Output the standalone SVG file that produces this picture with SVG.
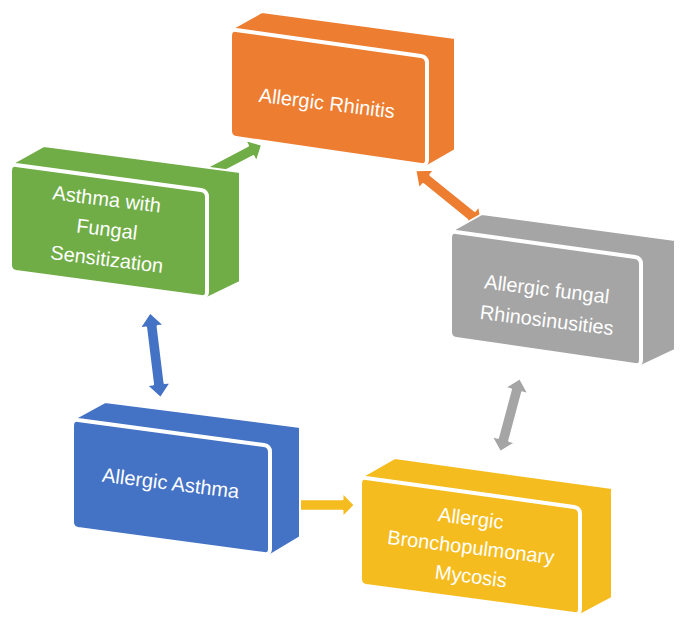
<svg xmlns="http://www.w3.org/2000/svg" width="685" height="627" viewBox="0 0 685 627">
<style>
.face{stroke:#fff;stroke-width:4;stroke-linejoin:round}
.body{stroke:#fff;stroke-width:2;stroke-linejoin:round}
.t{font-family:"Liberation Sans",Arial,sans-serif;font-size:20px;fill:#fff;text-anchor:middle}
.arr{stroke:#fff;stroke-width:2.5;stroke-linejoin:round}
</style>
<defs>
<path id="a" d="M0,0 L14,-13 L14,-6 L66,-6 L66,-13 L80,0 L66,13 L66,6 L14,6 L14,13 Z"/>
</defs>
<rect width="685" height="627" fill="#fff"/>
<g id="connectors">
<use href="#a" class="arr" fill="#70AD47" transform="translate(195,180) rotate(-27.6) scale(0.95,1)"/>
<use href="#a" class="arr" fill="#ED7D31" transform="translate(415,170) rotate(39) scale(1.09,1)"/>
<use href="#a" class="arr" fill="#4472C4" transform="translate(150,312) rotate(83) scale(1.09,1)"/>
<use href="#a" class="arr" fill="#A5A5A5" transform="translate(520,378) rotate(105) scale(0.96,1)"/>
<use href="#a" class="arr" fill="#F5BC1F" transform="translate(283,505) scale(0.9,1)"/>
</g>
<g id="n-rhinitis">
<path class="body" fill="#ED7D31" d="M230,30 L262,12 L455,38 L455,150 L427,166 L230,137 Z"/>
<path class="face" fill="#ED7D31" d="M236,30 L421,56 Q427,57 427,63 L427,160 Q427,166 421,165 L236,138 Q230,137 230,131 L230,36 Q230,29 236,30 Z"/>
<text class="t" transform="translate(326,110) rotate(7)">Allergic Rhinitis</text>
</g>
<g id="n-asthma-fungal">
<path class="body" fill="#70AD47" d="M10,165 L44,146 L240,172 L240,282 L207,298 L10,272 Z"/>
<path class="face" fill="#70AD47" d="M16,165 L201,190 Q207,191 207,197 L207,292 Q207,298 201,297 L16,272 Q10,271 10,265 L10,171 Q10,164 16,165 Z"/>
<text class="t" transform="translate(106,206) rotate(7)">Asthma with</text>
<text class="t" transform="translate(106,236) rotate(7)">Fungal</text>
<text class="t" transform="translate(106,266) rotate(7)">Sensitization</text>
</g>
<g id="n-afrs">
<path class="body" fill="#A5A5A5" d="M450,232 L482,214 L675,240 L675,350 L641,366 L450,338 Z"/>
<path class="face" fill="#A5A5A5" d="M456,232 L635,257 Q641,258 641,264 L641,360 Q641,366 635,365 L456,339 Q450,338 450,332 L450,238 Q450,231 456,232 Z"/>
<text class="t" transform="translate(546,296) rotate(7)">Allergic fungal</text>
<text class="t" transform="translate(546,327) rotate(7)">Rhinosinusities</text>
</g>
<g id="n-asthma">
<path class="body" fill="#4472C4" d="M72,420 L105,402 L300,427 L300,537 L270,555 L72,528 Z"/>
<path class="face" fill="#4472C4" d="M78,420 L264,445 Q270,446 270,452 L270,549 Q270,555 264,554 L78,529 Q72,528 72,522 L72,426 Q72,419 78,420 Z"/>
<text class="t" transform="translate(170,490) rotate(7)">Allergic Asthma</text>
</g>
<g id="n-abpm">
<path class="body" fill="#F5BC1F" d="M360,478 L395,458 L612,488 L612,598 L580,615 L360,585 Z"/>
<path class="face" fill="#F5BC1F" d="M366,478 L574,507 Q580,508 580,514 L580,609 Q580,615 574,614 L366,586 Q360,585 360,579 L360,484 Q360,477 366,478 Z"/>
<text class="t" transform="translate(470,525) rotate(7)">Allergic</text>
<text class="t" transform="translate(470,554) rotate(7)">Bronchopulmonary</text>
<text class="t" transform="translate(470,583) rotate(7)">Mycosis</text>
</g>
</svg>
